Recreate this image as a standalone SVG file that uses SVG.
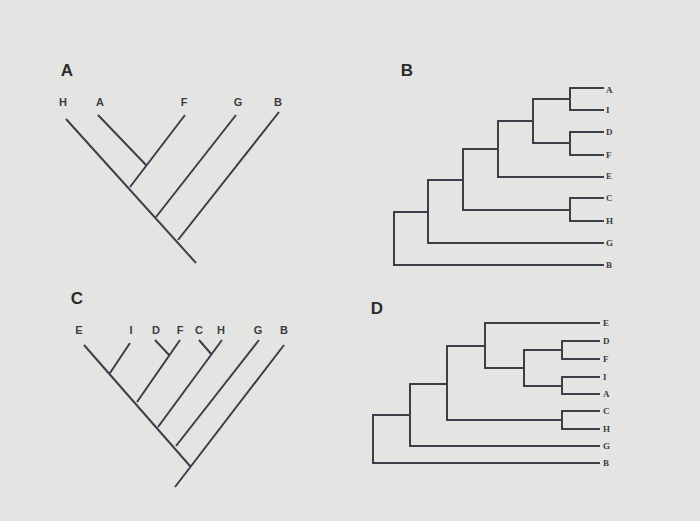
<svg xmlns="http://www.w3.org/2000/svg" width="700" height="521" viewBox="0 0 700 521">
<style>
.t{font-family:"Liberation Sans",Arial,sans-serif;font-weight:bold;font-size:11px;fill:#3a3d44;text-anchor:middle}
.p{font-family:"Liberation Sans",Arial,sans-serif;font-weight:bold;font-size:17px;fill:#2a2c30;text-anchor:middle}
.s{font-family:"Liberation Serif",serif;font-weight:bold;font-size:9px;fill:#3a3d44}
.l{stroke:#3a3f4a;stroke-width:2;fill:none}
</style>
<rect width="700" height="521" fill="#e4e4e2"/>
<g id="labels">
<text class="p" x="67" y="76">A</text>
<text class="p" x="407" y="76">B</text>
<text class="p" x="77" y="304">C</text>
<text class="p" x="377" y="314">D</text>
</g>
<g id="treeA">
<text class="t" x="63" y="106">H</text><text class="t" x="100" y="106">A</text><text class="t" x="184" y="106">F</text><text class="t" x="238" y="106">G</text><text class="t" x="278" y="106">B</text>
</g>
<g id="treeC">
<text class="t" x="79" y="334">E</text><text class="t" x="131" y="334">I</text><text class="t" x="156" y="334">D</text><text class="t" x="180" y="334">F</text><text class="t" x="199" y="334">C</text><text class="t" x="221" y="334">H</text><text class="t" x="258" y="334">G</text><text class="t" x="284" y="334">B</text>
</g>
<g id="treeB">
<text class="s" x="606" y="93">A</text><text class="s" x="606" y="113">I</text><text class="s" x="606" y="135">D</text><text class="s" x="606" y="158">F</text><text class="s" x="606" y="179">E</text><text class="s" x="606" y="201">C</text><text class="s" x="606" y="224">H</text><text class="s" x="606" y="246">G</text><text class="s" x="606" y="268">B</text>
</g>
<g id="treeD">
<text class="s" x="603" y="326">E</text><text class="s" x="603" y="344">D</text><text class="s" x="603" y="362">F</text><text class="s" x="603" y="380">I</text><text class="s" x="603" y="397">A</text><text class="s" x="603" y="414">C</text><text class="s" x="603" y="432">H</text><text class="s" x="603" y="449">G</text><text class="s" x="603" y="466">B</text>
</g>
<g id="connectors">
<path class="l" d="M66 119L196 263M98 115L146 165M185 115L130 187M236 115L156 217M279 112L178 240"/>
<path class="l" d="M84 345L190 466M284 345L175 487M130 343L110 373M155 340L170 356M180 340L137 402M199 340L212 355M222 340L158 427M259 340L176 446"/>
<path class="l" d="M604 88H570V110H604M604 132H570V155H604M570 99H533V143H570M533 121H498V177H604M604 198H570V221H604M498 149H463V210H570M463 180H428V243H604M428 212H394V265H604"/>
<path class="l" d="M600 341H562V359H600M600 377H562V394H600M562 350H524V386H562M524 368H485V323H600M600 411H562V429H600M485 346H447V420H562M447 384H410V446H600M410 415H373V463H600"/>
</g>
</svg>
